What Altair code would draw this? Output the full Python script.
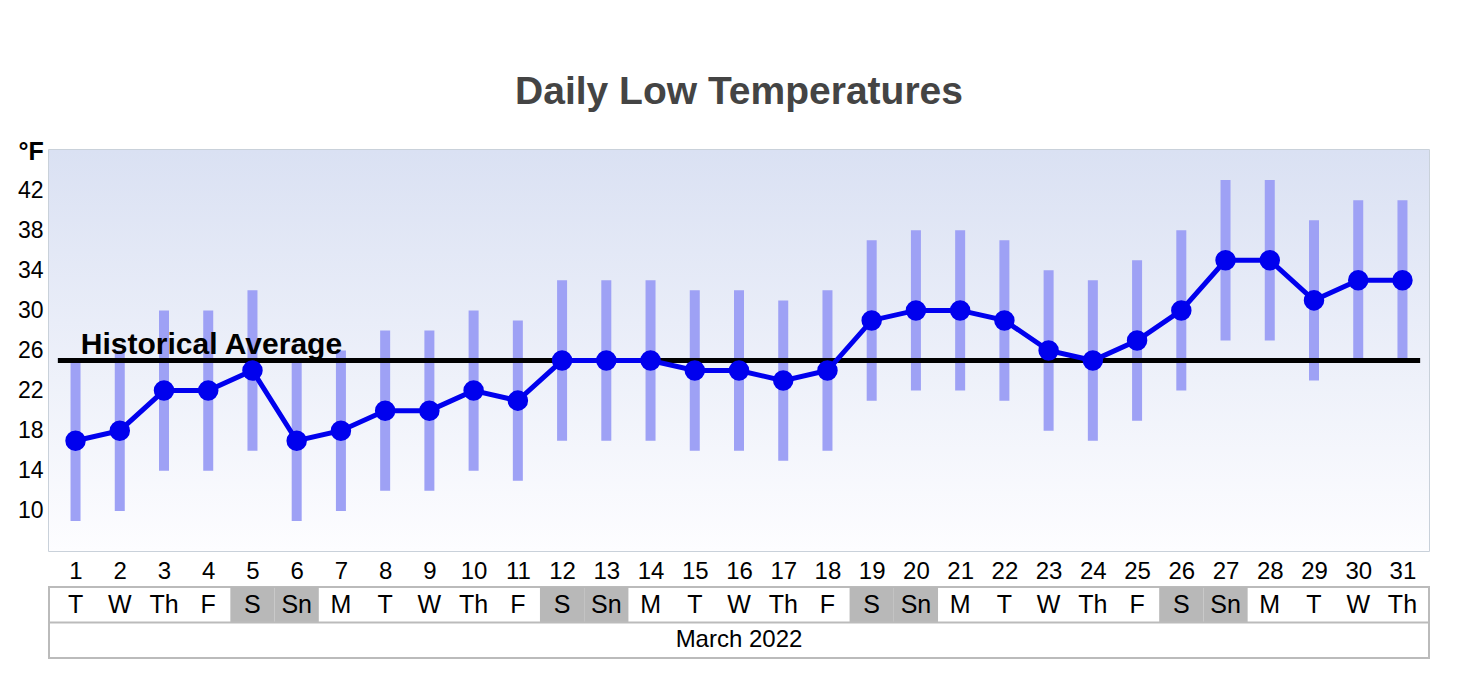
import altair as alt
import pandas as pd

# ---- data ----
days = list(range(1, 32))
weekdays = ["T", "W", "Th", "F", "S", "Sn", "M", "T", "W", "Th", "F", "S", "Sn", "M",
            "T", "W", "Th", "F", "S", "Sn", "M", "T", "W", "Th", "F", "S", "Sn", "M",
            "T", "W", "Th"]
lows = [17, 18, 22, 22, 24, 17, 18, 20, 20, 22, 21, 25, 25, 25, 24, 24, 23, 24,
        29, 30, 30, 29, 26, 25, 27, 30, 35, 35, 31, 33, 33]
range_low = [9, 10, 14, 14, 16, 9, 10, 12, 12, 14, 13, 17, 17, 17, 16, 16, 15, 16,
             21, 22, 22, 21, 18, 17, 19, 22, 27, 27, 23, 25, 25]
range_high = [25, 26, 30, 30, 32, 25, 26, 28, 28, 30, 29, 33, 33, 33, 32, 32, 31, 32,
              37, 38, 38, 37, 34, 33, 35, 38, 43, 43, 39, 41, 41]
hist_avg = [25]
hist_span_start = [0.6]
hist_span_end = [31.4]
hist_label = ["Historical Average"]
month_label = ["March 2022"]
month_mid_day = [16]
weekend_days = ["S", "Sn"]
y_ticks = [10, 14, 18, 22, 26, 30, 34, 38, 42]

FONT = "Liberation Sans"
W = 1380
H = 401

df = pd.DataFrame({"day": days, "wd": weekdays, "low": lows,
                   "rlo": range_low, "rhi": range_high})
df["x0"] = df["day"] - 0.5
df["x1"] = df["day"] + 0.5
df["weekend"] = df["wd"].isin(weekend_days)

avg_df = pd.DataFrame({"x": hist_span_start, "x2": hist_span_end, "y": hist_avg,
                       "label": hist_label})
month_df = pd.DataFrame({"x": month_mid_day, "label": month_label})

xs = alt.Scale(domain=[0.4, 31.6], nice=False, zero=False)
ys = alt.Scale(domain=[6, 46], nice=False, zero=False)

grad = alt.LinearGradient(
    gradient="linear",
    stops=[alt.GradientStop(color="#dae1f3", offset=0),
           alt.GradientStop(color="#fdfdff", offset=1)],
    x1=0, x2=0, y1=0, y2=1)

bg = alt.Chart(alt.Data(values=[{}])).mark_rect(color=grad).encode(
    x=alt.value(0), x2=alt.value("width"), y=alt.value(0), y2=alt.value("height"))

base = alt.Chart(df)

x_enc = alt.X("day:Q", scale=xs,
              axis=alt.Axis(values=days, format="d", title=None, ticks=False,
                            domain=False, grid=False, labelFontSize=24,
                            labelColor="black", labelPadding=8, labelFont=FONT))
y_enc = alt.Y("rlo:Q", scale=ys,
              axis=alt.Axis(values=y_ticks, title="°F", titleAngle=0,
                            titleAlign="left", titleBaseline="alphabetic",
                            titleX=-31, titleY=9, titleFontSize=25,
                            titleFontWeight="bold", titleColor="black",
                            titleFont=FONT,
                            labelFontSize=23, labelColor="black", labelPadding=6,
                            labelFont=FONT, ticks=False, domain=False, grid=True,
                            gridColor="#9a9a9a", gridDash=[2, 4], gridWidth=1.2))

bars = base.mark_rule(strokeWidth=10, color="#9ea1f5").encode(
    x=x_enc, y=y_enc, y2="rhi:Q")

avg_rule = alt.Chart(avg_df).mark_rule(strokeWidth=5, color="black").encode(
    x=alt.X("x:Q", scale=xs), x2="x2:Q", y=alt.Y("y:Q", scale=ys))

avg_text = alt.Chart(avg_df).mark_text(
    align="left", baseline="alphabetic", fontSize=30, fontWeight="bold",
    color="black", font=FONT, dx=23, dy=-7).encode(
    x=alt.X("x:Q", scale=xs), y=alt.Y("y:Q", scale=ys), text="label:N")

line = base.mark_line(color="#0000ee", strokeWidth=5).encode(
    x=alt.X("day:Q", scale=xs), y=alt.Y("low:Q", scale=ys))

pts = base.mark_circle(size=420, color="#0000ee", opacity=1).encode(
    x=alt.X("day:Q", scale=xs), y=alt.Y("low:Q", scale=ys))

main = alt.layer(bg, bars, avg_rule, avg_text, line, pts).properties(
    width=W, height=H,
    title=alt.TitleParams("Daily Low Temperatures", fontSize=39, fontWeight="bold",
                          color="#444444", anchor="middle", frame="group",
                          font=FONT, offset=27),
    view=alt.ViewBackground(stroke="#b8c2ce", strokeWidth=1.5))

# ---- calendar table ----
ty = alt.Scale(domain=[0, 2], nice=False, zero=False)
tx = alt.Scale(domain=[0.4, 31.6], nice=False, zero=False)

wk = alt.Chart(df).transform_filter("datum.weekend").mark_rect(color="#b8b8b8").encode(
    x=alt.X("x0:Q", scale=tx, axis=None), x2="x1:Q",
    y=alt.Y("y0:Q", scale=ty, axis=None), y2="y1:Q").transform_calculate(
    y0="1", y1="2")

wd_text = alt.Chart(df).mark_text(fontSize=25, font=FONT, color="black",
                                  baseline="middle").encode(
    x=alt.X("day:Q", scale=tx, axis=None),
    y=alt.Y("yy:Q", scale=ty, axis=None), text="wd:N").transform_calculate(yy="1.5")

mid_rule = alt.Chart(month_df).mark_rule(color="#bbbbbb", strokeWidth=2).encode(
    y=alt.Y("yy:Q", scale=ty, axis=None)).transform_calculate(yy="1")

m_text = alt.Chart(month_df).mark_text(fontSize=24, font=FONT, color="black",
                                       baseline="middle").encode(
    x=alt.X("x:Q", scale=tx, axis=None),
    y=alt.Y("yy:Q", scale=ty, axis=None), text="label:N").transform_calculate(yy="0.5")

table = alt.layer(wk, wd_text, mid_rule, m_text).properties(
    width=W, height=71,
    view=alt.ViewBackground(fill="white", stroke="#bbbbbb", strokeWidth=2))

chart = alt.vconcat(main, table, spacing=2).properties(
    padding={"left": 16, "top": 72, "right": 0, "bottom": 0}
).configure(font=FONT).configure_view(stroke=None)

chart.save("out.html", embed_options={"renderer": "svg", "actions": False})
